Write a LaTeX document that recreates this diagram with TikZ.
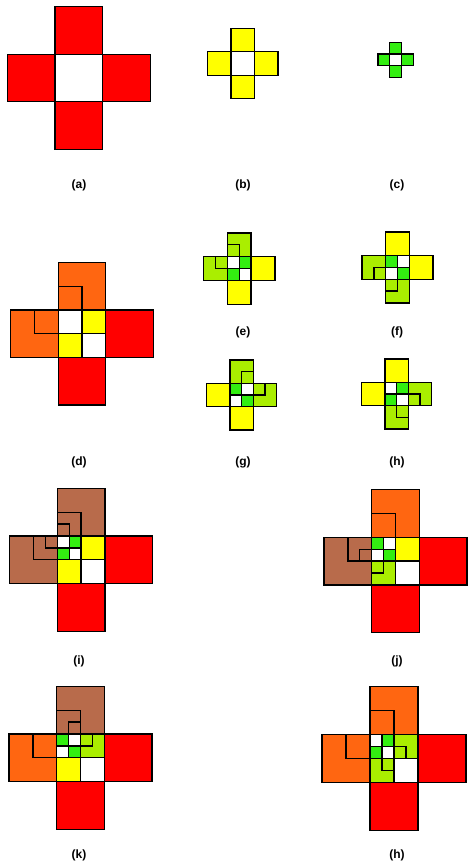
\documentclass[tikz,border=0pt]{standalone}
\usepackage{fontspec}
\setmainfont{Liberation Sans}
\definecolor{cred}{HTML}{FF0000}
\definecolor{cyel}{HTML}{FFFF00}
\definecolor{cgrn}{HTML}{33EE11}
\definecolor{clgr}{HTML}{AAEE00}
\definecolor{corg}{HTML}{FF6611}
\definecolor{cbrn}{HTML}{B86B4B}
\tikzset{ol/.style={draw=black,line width=1.3pt,line join=miter},
  lbl/.style={font=\bfseries\fontsize{12}{14}\selectfont,inner sep=0pt}}
% fill a square: x y size colour
\newcommand{\Fsq}[4]{\fill[#4] (#1,#2) rectangle ++(#3,#3);}
% fill a cross: x0 y0 s top left right bottom (centre white)
\newcommand{\Fcross}[7]{%
  \fill[white] (#1,#2) rectangle ++(#3,#3);
  \fill[#4] ({#1},{#2-#3}) rectangle ++(#3,#3);
  \fill[#5] ({#1-#3},{#2}) rectangle ++(#3,#3);
  \fill[#6] ({#1+#3},{#2}) rectangle ++(#3,#3);
  \fill[#7] ({#1},{#2+#3}) rectangle ++(#3,#3);}
% outline a cross: x0 y0 s
\newcommand{\Ocross}[3]{%
  \draw[ol] (#1,#2) rectangle ++(#3,#3);
  \draw[ol] ({#1},{#2-#3}) rectangle ++(#3,#3);
  \draw[ol] ({#1-#3},{#2}) rectangle ++(#3,#3);
  \draw[ol] ({#1+#3},{#2}) rectangle ++(#3,#3);
  \draw[ol] ({#1},{#2+#3}) rectangle ++(#3,#3);}
\begin{document}
\begin{tikzpicture}[x=1pt,y=-1pt]
\useasboundingbox[fill=white] (0,0) rectangle (474,866);
% (a)
\Fcross{55}{54.2}{47.6}{cred}{cred}{cred}{cred}
\Ocross{55}{54.2}{47.6}
% (b)
\Fcross{231}{51.7}{23.5}{cyel}{cyel}{cyel}{cyel}
\Ocross{231}{51.7}{23.5}
% (c)
\Fcross{389.7}{54}{11.8}{cgrn}{cgrn}{cgrn}{cgrn}
\Ocross{389.7}{54}{11.8}
% (d)
\Fcross{58.3}{310}{47.5}{corg}{corg}{cred}{cred}
\Fsq{82.05}{310}{23.75}{cyel}
\Fsq{58.3}{333.75}{23.75}{cyel}
\Ocross{58.3}{310}{47.5}
\Ocross{58.3}{310}{23.75}
% (e)
\Fcross{227.3}{256.7}{23.8}{clgr}{clgr}{cyel}{cyel}
\Fsq{239.2}{256.7}{11.9}{cgrn}
\Fsq{227.3}{268.6}{11.9}{cgrn}
\Ocross{227.3}{256.7}{23.8}
\Ocross{227.3}{256.7}{11.9}
% (f)
\Fcross{385.7}{255.7}{23.6}{cyel}{clgr}{cyel}{clgr}
\Fsq{385.7}{255.7}{11.8}{cgrn}
\Fsq{397.5}{267.5}{11.8}{cgrn}
\Ocross{385.7}{255.7}{23.6}
\Ocross{385.7}{267.5}{11.8}
% (g)
\Fcross{230}{383.3}{23.4}{clgr}{cyel}{clgr}{cyel}
\Fsq{230}{383.3}{11.7}{cgrn}
\Fsq{241.7}{395}{11.7}{cgrn}
\Ocross{230}{383.3}{23.4}
\Ocross{241.7}{383.3}{11.7}
% (h)
\Fcross{385}{382.3}{23.4}{cyel}{cyel}{clgr}{clgr}
\Fsq{396.7}{382.3}{11.7}{cgrn}
\Fsq{385}{394}{11.7}{cgrn}
\Ocross{385}{382.3}{23.4}
\Ocross{396.7}{394}{11.7}
% (i)
\Fcross{57.3}{536}{47.6}{cbrn}{cbrn}{cred}{cred}
\Fsq{81.1}{536}{23.8}{cyel}
\Fsq{57.3}{559.8}{23.8}{cyel}
\Fsq{69.2}{536}{11.9}{cgrn}
\Fsq{57.3}{547.9}{11.9}{cgrn}
\Ocross{57.3}{536}{47.6}
\Ocross{57.3}{536}{23.8}
\Ocross{57.3}{536}{11.9}
% (j)
\Fcross{371.7}{537.3}{47.6}{corg}{cbrn}{cred}{cred}
\Fsq{395.5}{537.3}{23.8}{cyel}
\Fsq{371.7}{561.1}{23.8}{clgr}
\Fsq{371.7}{537.3}{11.9}{cgrn}
\Fsq{383.6}{549.2}{11.9}{cgrn}
\Ocross{371.7}{537.3}{47.6}
\Ocross{371.7}{537.3}{23.8}
\Ocross{371.7}{549.2}{11.9}
% (k)
\Fcross{56.7}{734}{47.6}{cbrn}{corg}{cred}{cred}
\Fsq{80.5}{734}{23.8}{clgr}
\Fsq{56.7}{757.8}{23.8}{cyel}
\Fsq{56.7}{734}{11.9}{cgrn}
\Fsq{68.6}{745.9}{11.9}{cgrn}
\Ocross{56.7}{734}{47.6}
\Ocross{56.7}{734}{23.8}
\Ocross{68.6}{734}{11.9}
% (h) bottom
\Fcross{370}{734.3}{48}{corg}{corg}{cred}{cred}
\Fsq{394}{734.3}{24}{clgr}
\Fsq{370}{758.3}{24}{clgr}
\Fsq{382}{734.3}{12}{cgrn}
\Fsq{370}{746.3}{12}{cgrn}
\Ocross{370}{734.3}{48}
\Ocross{370}{734.3}{24}
\Ocross{382}{746.3}{12}
% labels
\node[lbl] (la) at (79,185) {(a)};
\node[lbl] (lb) at (243,185) {(b)};
\node[lbl] (lc) at (397,185) {(c)};
\node[lbl] (le) at (243,332) {(e)};
\node[lbl] (lf) at (397,332) {(f)};
\node[lbl] (ld) at (79,462) {(d)};
\node[lbl] (lg) at (243,462) {(g)};
\node[lbl] (lh) at (397,462) {(h)};
\node[lbl] (li) at (79,661) {(i)};
\node[lbl] (lj) at (397,661) {(j)};
\node[lbl] (lk) at (79,855) {(k)};
\node[lbl] (lh2) at (397,855) {(h)};
\end{tikzpicture}
\end{document}
